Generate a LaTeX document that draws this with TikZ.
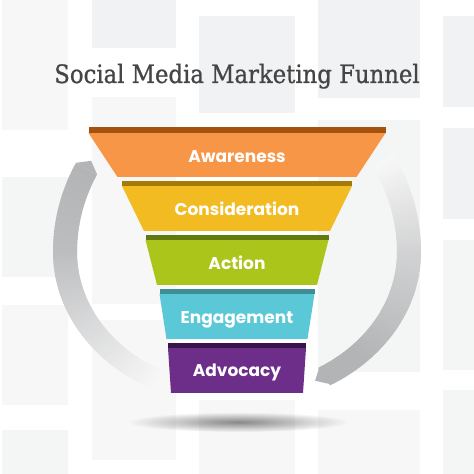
\documentclass[tikz,border=0pt]{standalone}
\usepackage{fontspec}
\newfontfamily\titlefont[FakeStretch=0.9,FakeBold=0.8]{DejaVu Serif}
\newfontfamily\labelfont{Poppins}
\usetikzlibrary{fadings}
\definecolor{bgA}{HTML}{F1F2F3}
\definecolor{bgB}{HTML}{F7F7F8}
\definecolor{bgC}{HTML}{F4F5F5}
\definecolor{ringgray}{HTML}{B3B4B6}
\definecolor{fadebg}{HTML}{F7F7F7}
\definecolor{titlegray}{HTML}{454545}
\definecolor{orangeBody}{HTML}{F79646}
\definecolor{orangeBand}{HTML}{A5520F}
\definecolor{yellowBody}{HTML}{F2BB22}
\definecolor{yellowBand}{HTML}{A47B06}
\definecolor{greenBody}{HTML}{ABC51B}
\definecolor{greenBand}{HTML}{62790F}
\definecolor{cyanBody}{HTML}{5BC8D7}
\definecolor{cyanBand}{HTML}{3F8D96}
\definecolor{purpleBody}{HTML}{6C2E89}
\definecolor{purpleBand}{HTML}{37154A}
\tikzfading[name=shadowfade, inner color=transparent!30, outer color=transparent!100]
\begin{document}
\begin{tikzpicture}[x=1pt,y=1pt,
  declare function={ringx(\a,\r)=237+\r*cos(\a);
                     ringy(\a,\r)=222+\r*sin(\a)*(1-0.16*(sin(\a)<0));},
  titlestyle/.style={font=\titlefont\fontsize{25.3}{30}\selectfont, text=titlegray, inner sep=0pt},
  labelstyle/.style={font=\labelfont\bfseries\fontsize{17}{20}\selectfont, text=white, inner sep=0pt, anchor=base}
]
\useasboundingbox (0,0) rectangle (474,474);
\fill[white] (0,0) rectangle (474,474);
% background tiles (image y -> 474 - y)
\fill[bgB] (2,474) rectangle (68,344);
\fill[bgC] (2,297) rectangle (68,197);
\fill[bgB] (2,169) rectangle (68,69);
\fill[bgC] (2,44) rectangle (68,0);
\fill[bgA] (92,474) rectangle (176,426);
\fill[bgB] (92,377) rectangle (176,170);
\fill[bgB] (92,154) rectangle (176,14);
\fill[bgA] (199,458) rectangle (295,361);
\fill[bgB] (199,74) rectangle (295,0);
\fill[bgA] (318,474) rectangle (420,376);
\fill[bgC] (318,354) rectangle (420,102);
\fill[bgB] (318,64) rectangle (420,0);
\fill[bgA] (443,458) rectangle (474,367);
\fill[bgA] (443,346) rectangle (474,255);
\fill[bgC] (443,234) rectangle (474,104);
\fill[bgC] (443,84) rectangle (474,0);
% title
\node[titlestyle, anchor=base] (title) at (237,391) {Social Media Marketing Funnel};
% left ring arc (fades toward bottom)
\fill[ringgray] ({ringx(151,184)},{ringy(151,184)}) -- ({ringx(148,172)},{ringy(148,172)}) -- ({ringx(151,160)},{ringy(151,160)}) -- cycle;
\foreach \a in {151,152,...,246}{
  \pgfmathsetmacro\p{max(0,(\a<180)*(100-(\a-151)*0.5)+(\a>=180)*(85-(\a-180)*1.37))}
  \fill[ringgray!\p!fadebg] ({ringx(\a,160)},{ringy(\a,160)}) -- ({ringx(\a,184)},{ringy(\a,184)}) -- ({ringx(\a+1.6,184)},{ringy(\a+1.6,184)}) -- ({ringx(\a+1.6,160)},{ringy(\a+1.6,160)}) -- cycle;
}
% right ring arc (fades toward top)
\foreach \a in {32,31,...,-58}{
  \pgfmathsetmacro\p{min(100,(\a>0)*55*(1-\a/32)+(\a<=0)*(55-\a))}
  \fill[ringgray!\p!fadebg] ({ringx(\a,160)},{ringy(\a,160)}) -- ({ringx(\a,184)},{ringy(\a,184)}) -- ({ringx(\a-1.6,184)},{ringy(\a-1.6,184)}) -- ({ringx(\a-1.6,160)},{ringy(\a-1.6,160)}) -- cycle;
}
\fill[ringgray] ({ringx(-59,184)},{ringy(-59,184)}) -- ({ringx(-63,172)},{ringy(-63,172)}) -- ({ringx(-59,160)},{ringy(-59,160)}) -- cycle;
% shadow under funnel
\fill[black!65, path fading=shadowfade] (238,52) ellipse [x radius=110, y radius=10];
% funnel layers: band (top), body (trapezoid)
\fill[orangeBody] (88.5,341) -- (385.5,341) -- (356.5,297) -- (117.5,297) -- cycle;
\fill[orangeBand] (88.5,341) rectangle (385.5,347);
\fill[yellowBody] (122,288) -- (352,288) -- (330,243) -- (144,243) -- cycle;
\fill[yellowBand] (122,288) rectangle (352,293);
\fill[greenBody] (145.5,234) -- (328.5,234) -- (317,189) -- (157,189) -- cycle;
\fill[greenBand] (145.5,234) rectangle (328.5,239);
\fill[cyanBody] (159.5,180) -- (314.5,180) -- (307.5,135) -- (166.5,135) -- cycle;
\fill[cyanBand] (159.5,180) rectangle (314.5,185);
\fill[purpleBody] (168,126) -- (306,126) -- (303,81) -- (171,81) -- cycle;
\fill[purpleBand] (168,126) rectangle (306,131);
% labels
\node[labelstyle] (awareness) at (237,311) {Awareness};
\node[labelstyle] (consideration) at (237,258) {Consideration};
\node[labelstyle] (action) at (237,204) {Action};
\node[labelstyle] (engagement) at (237,150) {Engagement};
\node[labelstyle] (advocacy) at (237,97) {Advocacy};
\end{tikzpicture}
\end{document}
